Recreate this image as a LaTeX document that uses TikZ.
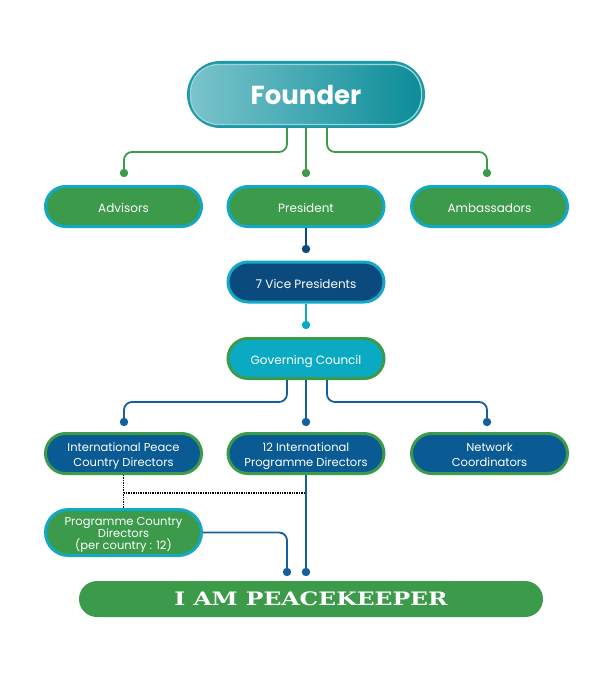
\documentclass[tikz,border=0pt]{standalone}
\usepackage{fontspec}
\setmainfont{Poppins}
\newfontfamily\barfont{DejaVu Serif}
\definecolor{gfill}{HTML}{3C9A4B}
\definecolor{tealb}{HTML}{13A9C6}
\definecolor{navy}{HTML}{0B4A7C}
\definecolor{bfill}{HTML}{0A5A94}
\definecolor{tealfill}{HTML}{0BAAC3}
\definecolor{lblue}{HTML}{14609C}
\definecolor{fleft}{HTML}{7CC4CC}
\definecolor{fright}{HTML}{0A8C98}
\definecolor{fborder}{HTML}{1C98A6}
\definecolor{finner}{HTML}{9AD3D8}
\tikzset{
  box/.style={rounded corners=20pt, minimum width=156pt, minimum height=40pt,
    line width=3pt, text=white, align=center, inner sep=0pt,
    font=\fontsize{12}{15}\selectfont},
  oneline/.style={text height=12pt, text depth=0pt},
  gbox/.style={fill=gfill, draw=tealb},
  vpbox/.style={fill=navy, draw=tealb},
  gcbox/.style={fill=tealfill, draw=gfill},
  bbox/.style={fill=bfill, draw=gfill, font=\fontsize{11.5}{15}\selectfont, text height=25pt, text depth=0pt},
  gline/.style={draw=gfill, line width=1.8pt, rounded corners=8pt},
  bline/.style={draw=lblue, line width=1.8pt, rounded corners=8pt},
  dotline/.style={draw=black, line width=1.4pt, densely dotted},
}
\begin{document}
\begin{tikzpicture}[x=1pt,y=-1pt]
\useasboundingbox[fill=white] (0,0) rectangle (612,687);

% Founder
\node[draw=fborder, line width=3pt, rounded corners=32pt, left color=fleft, right color=fright,
  minimum width=235pt, minimum height=64pt, text=white, inner sep=0pt,
  font=\bfseries\fontsize{26}{30}\selectfont] (founder) at (306,94.5) {Founder};
\draw[finner, line width=1.3pt, rounded corners=28pt]
  ([shift={(3.5pt,-3.5pt)}]founder.north west) rectangle ([shift={(-3.5pt,3.5pt)}]founder.south east);

% Row 2
\node[box, gbox, oneline] (adv) at (123.5,206.5) {Advisors};
\node[box, gbox, oneline] (pres) at (306,206.5) {President};
\node[box, gbox, oneline] (amb) at (489.5,206.5) {Ambassadors};

\node[box, vpbox, oneline] (vp) at (306,282) {7 Vice Presidents};
\node[box, gcbox, oneline] (gc) at (306,358.5) {Governing Council};

% Row 4
\node[box, bbox] (ipcd) at (123.5,453.5) {International Peace\\Country Directors};
\node[box, bbox] (ipd) at (306,453.5) {12 International\\Programme Directors};
\node[box, bbox] (nc) at (489.5,453.5) {Network\\Coordinators};

\node[box, gbox, minimum height=46pt, rounded corners=23pt, font=\fontsize{11.5}{12.3}\selectfont,
  text height=34.6pt, text depth=0pt]
  (pcd) at (123.5,532.5) {Programme Country\\Directors\\(per country : 12)};

\node[fill=gfill, rounded corners=18pt, minimum width=464pt, minimum height=36pt, inner sep=0pt,
  text=white, font=\barfont\bfseries\fontsize{18.5}{20}\selectfont] (iam) at (311,599)
  {\scalebox{1.27}[1]{I AM PEACEKEEPER}};

% helper coordinates
\coordinate (h1) at (0,152);
\coordinate (h2) at (0,402);
\coordinate (h3) at (0,493);
\coordinate (d1) at (124,173);
\coordinate (d2) at (306,173);
\coordinate (d3) at (487,173);
\coordinate (d4) at (306,249);
\coordinate (d5) at (306,325);
\coordinate (d6) at (124,422);
\coordinate (d7) at (306,422);
\coordinate (d8) at (487,422);
\coordinate (d9) at (287,572);
\coordinate (d10) at (306,572);

% Founder connectors
\draw[gline] ([xshift=-19pt]founder.south) |- (d1 |- h1) -- (d1);
\draw[gline] (founder.south) -- (d2);
\draw[gline] ([xshift=21pt]founder.south) |- (d3 |- h1) -- (d3);
\fill[gfill] (d1) circle (4.2pt) (d2) circle (4.2pt) (d3) circle (4.2pt);

% President -> VP -> GC
\draw[navy, line width=1.8pt] (pres.south) -- (d4);
\fill[navy] (d4) circle (4.2pt);
\draw[tealfill, line width=1.8pt] (vp.south) -- (d5);
\fill[tealfill] (d5) circle (4.2pt);

% GC connectors
\draw[bline] ([xshift=-19pt]gc.south) |- (d6 |- h2) -- (d6);
\draw[bline] (gc.south) -- (d7);
\draw[bline] ([xshift=21pt]gc.south) |- (d8 |- h2) -- (d8);
\fill[lblue] (d6) circle (4.2pt) (d7) circle (4.2pt) (d8) circle (4.2pt);

% dotted links
\draw[dotline] (ipcd.south) -- (pcd.north);
\draw[dotline] (ipcd.south |- h3) -- (ipd.south |- h3);

% bottom connectors
\draw[bline] (ipd.south) -- (d10);
\draw[bline] (pcd.east) -| (d9);
\fill[lblue] (d9) circle (4.2pt) (d10) circle (4.2pt);
\end{tikzpicture}
\end{document}
